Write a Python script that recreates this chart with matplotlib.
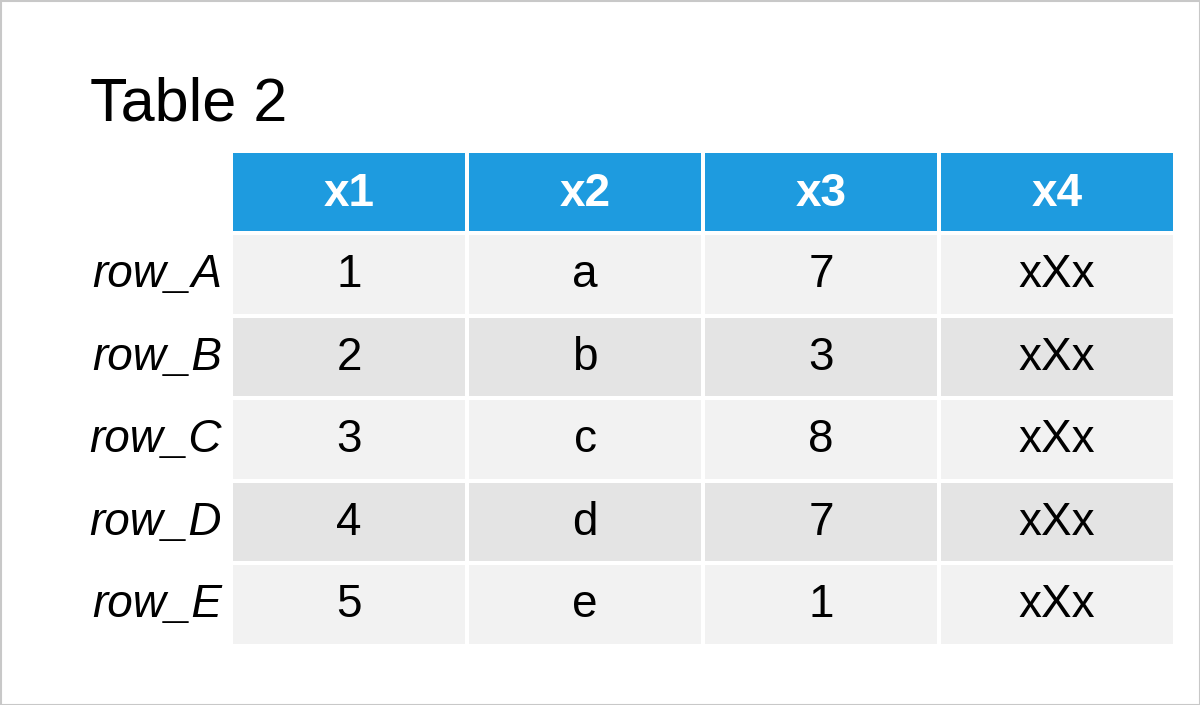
import matplotlib
matplotlib.use("Agg")
import matplotlib.pyplot as plt
from matplotlib.patches import Rectangle

title = "Table 2"
columns = ["x1", "x2", "x3", "x4"]
row_labels = ["row_A", "row_B", "row_C", "row_D", "row_E"]
x1 = ["1", "2", "3", "4", "5"]
x2 = ["a", "b", "c", "d", "e"]
x3 = ["7", "3", "8", "7", "1"]
x4 = ["xXx", "xXx", "xXx", "xXx", "xXx"]
data = [x1, x2, x3, x4]

plt.rcParams['font.family'] = ['Liberation Sans', 'DejaVu Sans']
fig = plt.figure(figsize=(12, 7.05), dpi=100)
ax = fig.add_axes([0, 0, 1, 1])
ax.set_xlim(0, 1200); ax.set_ylim(705, 0); ax.axis('off')
ax.add_patch(Rectangle((0.5, 0.5), 1199, 704, fill=False, ec='#c8c8c8', lw=1.5))

ax.text(90, 105, title, fontsize=44, va='center', ha='left', color='black')

x0, cw, gap = 233, 236, 4
hy, hh = 153, 78
ry0, rh = 235, 82.5
fs = 33
for j, c in enumerate(columns):
    xl = x0 + j * cw
    ax.add_patch(Rectangle((xl, hy), cw - gap, hh, fc='#1E9BDF', ec='none'))
    ax.text(xl + (cw - gap) / 2, hy + hh / 2 + 2, c, fontsize=fs, weight='bold',
            color='white', ha='center', va='center')
for i, r in enumerate(row_labels):
    yt = ry0 + i * rh
    col = '#F2F2F2' if i % 2 == 0 else '#E4E4E4'
    ax.text(222, yt + (rh - gap) / 2 + 1, r, fontsize=fs, style='italic',
            ha='right', va='center', color='black')
    for j in range(len(columns)):
        xl = x0 + j * cw
        ax.add_patch(Rectangle((xl, yt), cw - gap, rh - gap, fc=col, ec='none'))
        ax.text(xl + (cw - gap) / 2, yt + (rh - gap) / 2 + 1, data[j][i],
                fontsize=fs, ha='center', va='center', color='black')

fig.savefig("out.png", dpi=100)
